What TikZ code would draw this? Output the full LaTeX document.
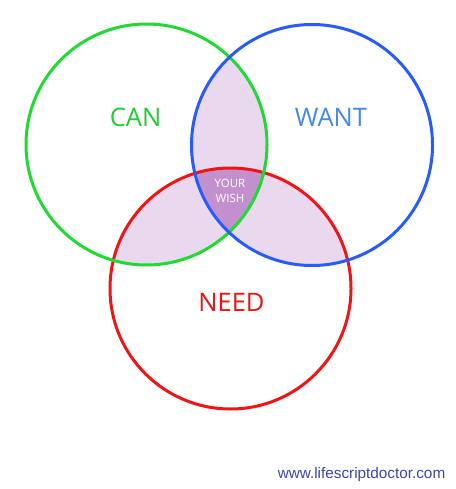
\documentclass[tikz,border=0pt]{standalone}
\usepackage{fontspec}
\setmainfont{Open Sans}
\newfontfamily\urlfont{Liberation Sans}
\definecolor{cgreen}{RGB}{30,218,50}
\definecolor{cblue}{RGB}{40,92,250}
\definecolor{cred}{RGB}{240,20,20}
\definecolor{tgreen}{RGB}{30,205,50}
\definecolor{tblue}{RGB}{70,135,240}
\definecolor{tred}{RGB}{235,20,20}
\definecolor{lightlil}{RGB}{234,217,238}
\definecolor{darklil}{RGB}{194,144,205}
\definecolor{urlcol}{RGB}{60,72,168}
\begin{document}
\begin{tikzpicture}[x=1pt,y=-1pt,
  ring/.style={line width=3pt},
  biglabel/.style={font=\fontsize{25.5}{28}\selectfont,inner sep=0pt},
  wishlabel/.style={font=\fontsize{11.5}{15}\selectfont,text=white,align=center,inner sep=0pt}]
\useasboundingbox[fill=white] (0,0) rectangle (455,489);
\coordinate (cg) at (146.5,144.5);
\coordinate (cb) at (312,145);
\coordinate (cr) at (230.5,288.5);
\def\R{120.5}
% pairwise overlaps
\begin{scope}\clip (cg) circle (\R); \fill[lightlil] (cb) circle (\R);\end{scope}
\begin{scope}\clip (cg) circle (\R); \fill[lightlil] (cr) circle (\R);\end{scope}
\begin{scope}\clip (cb) circle (\R); \fill[lightlil] (cr) circle (\R);\end{scope}
% triple overlap
\begin{scope}\clip (cg) circle (\R); \clip (cb) circle (\R); \fill[darklil] (cr) circle (\R);\end{scope}
% rings
\draw[ring,cred] (cr) circle (\R);
\draw[ring,cgreen] (cg) circle (\R);
\draw[ring,cblue] (cb) circle (\R);
% labels
\node[biglabel,text=tgreen] (can) at (135.5,117) {CAN};
\node[biglabel,text=tblue] (want) at (331,117) {WANT};
\node[biglabel,text=tred] (need) at (231.5,302) {NEED};
\node[wishlabel] (wish) at (230,190.5) {YOUR\\WISH};
\node[font=\urlfont\fontsize{15.3}{18}\selectfont,text=urlcol,inner sep=0pt] (url) at (361.5,475) {www.lifescriptdoctor.com};
\end{tikzpicture}
\end{document}
